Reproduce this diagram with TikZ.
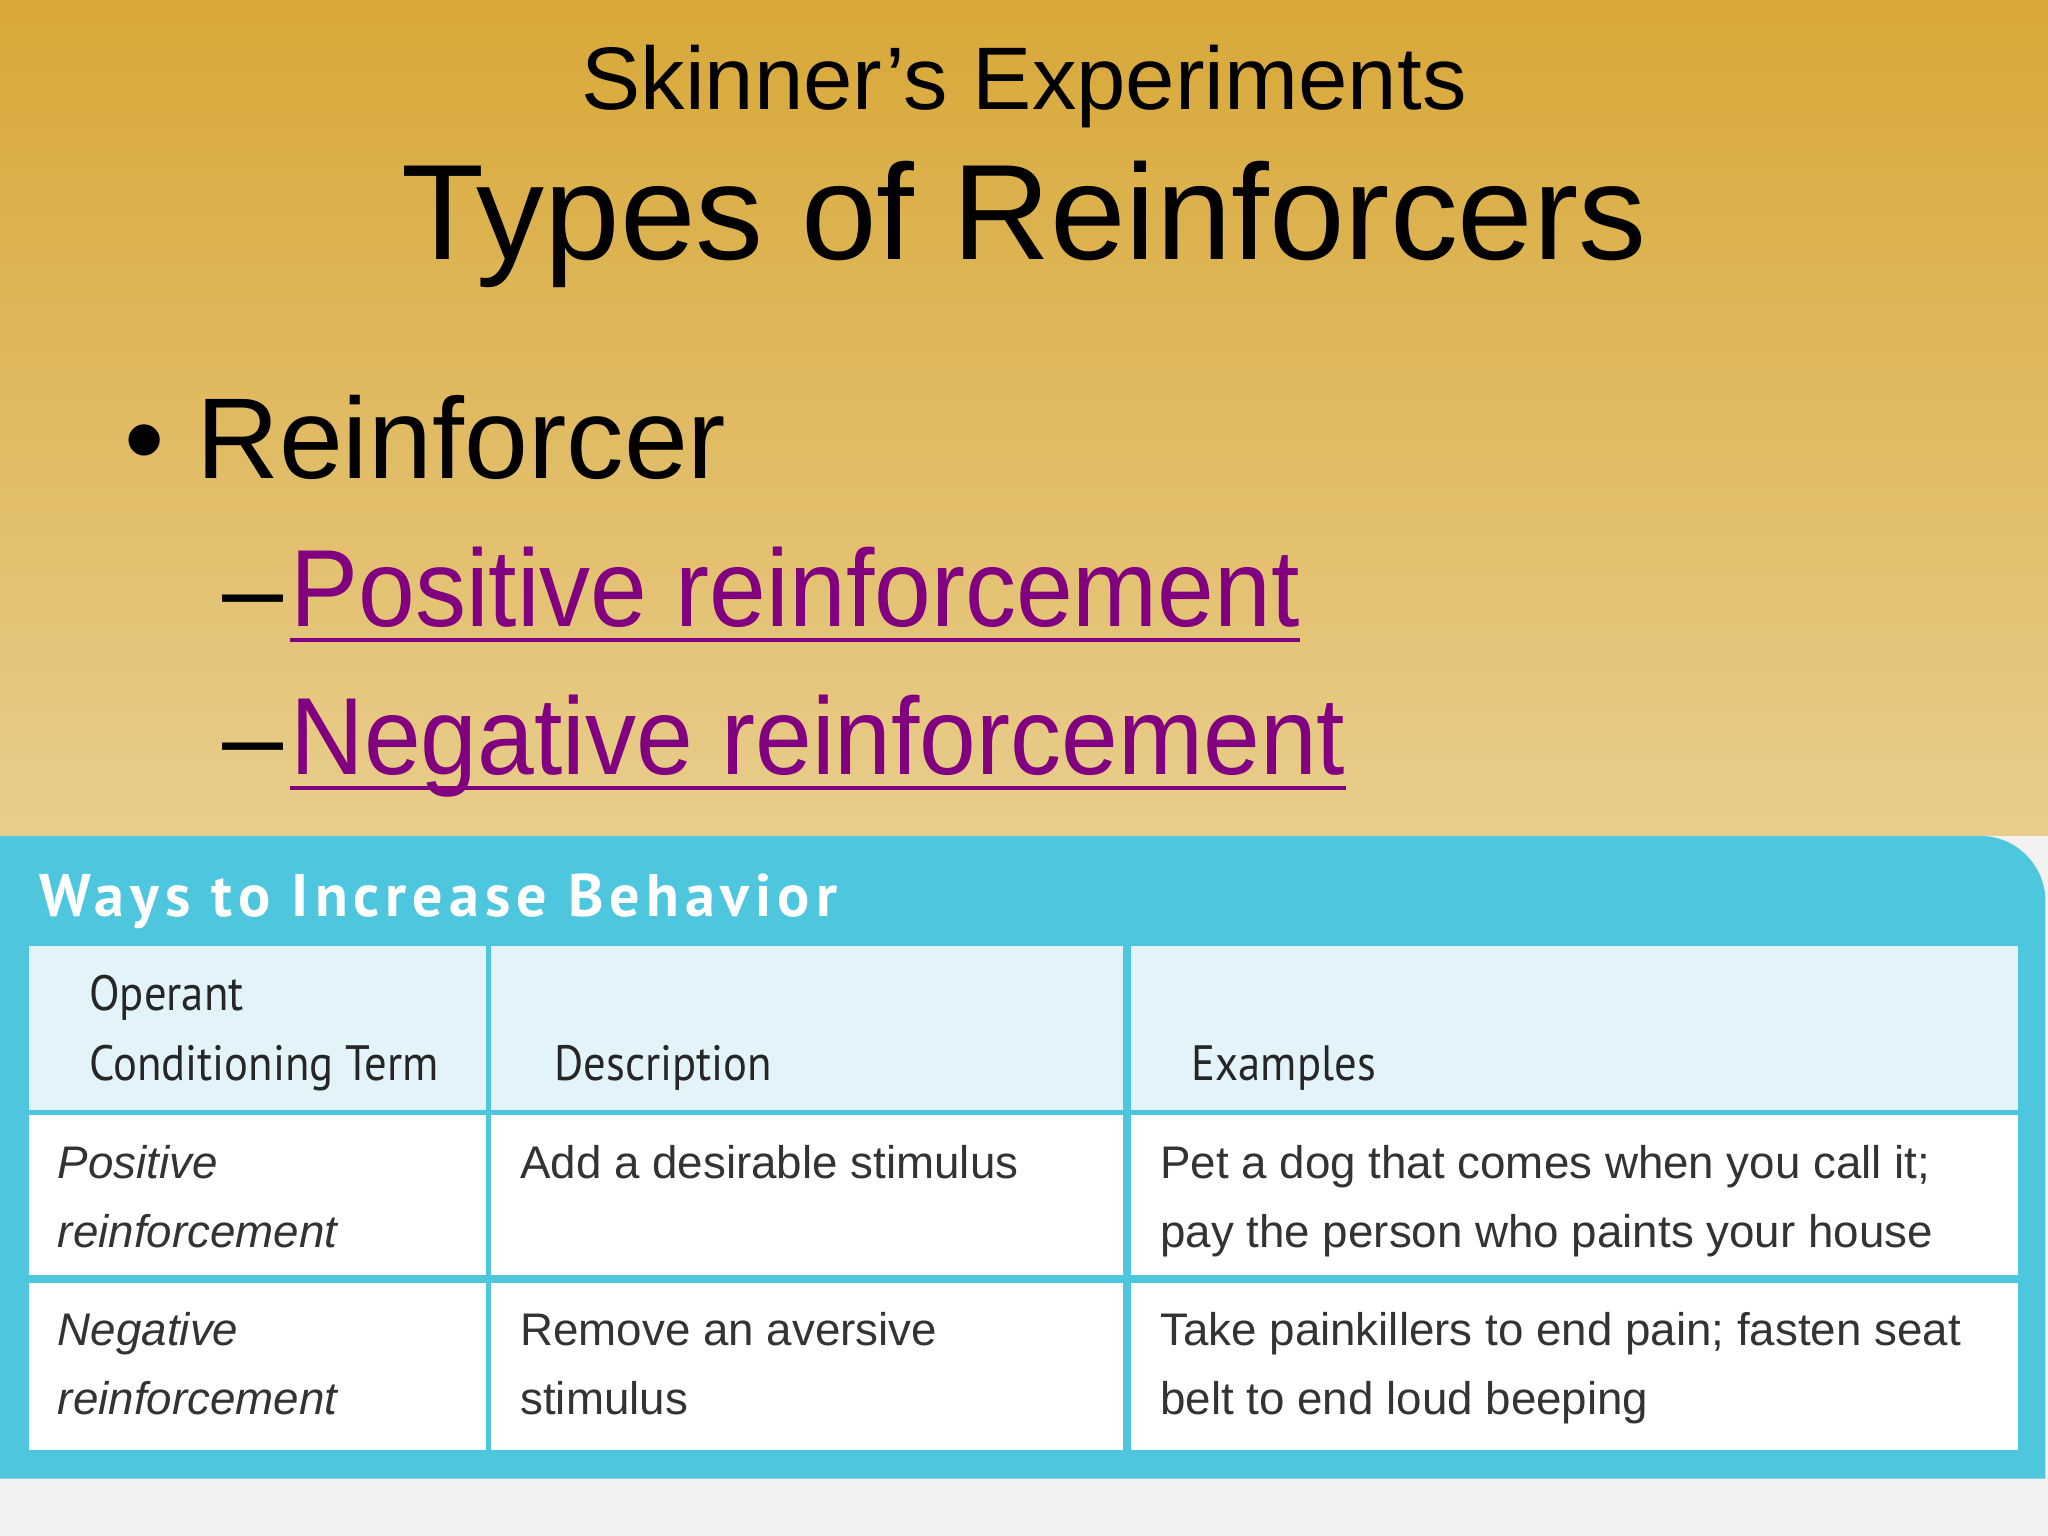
\documentclass[tikz,border=0pt]{standalone}
\usepackage{fontspec}
\setmainfont{Liberation Sans}
\newfontfamily\hdfont{PT Sans}
\usetikzlibrary{calc}
\definecolor{goldtop}{HTML}{D8A838}
\definecolor{goldbot}{HTML}{E8CD8C}
\definecolor{cyanp}{HTML}{4EC6DE}
\definecolor{hdcell}{HTML}{E2F4FA}
\definecolor{purp}{HTML}{800080}
\definecolor{txt}{HTML}{333333}
\tikzset{
  hdcellst/.style={fill=hdcell,draw=none},
  bdcellst/.style={fill=white,draw=none},
  celltxt/.style={anchor=base west,inner sep=0pt,font=\fontsize{17.5}{26}\selectfont,text=txt},
  hdtxt/.style={anchor=base west,inner sep=0pt,font=\hdfont\fontsize{19}{26}\selectfont,text=black!85},
  linkst/.style={anchor=base west,inner sep=0pt,font=\fontsize{42}{50}\selectfont,text=purp}
}
\begin{document}
\begin{tikzpicture}[x=0.5pt,y=-0.5pt]
\useasboundingbox (0,0) rectangle (1568,1176);
\shade[top color=goldtop,bottom color=goldbot] (0,0) rectangle (1568,640);
\fill[gray!10] (0,640) rectangle (1568,1176);
\fill[cyanp] (0,640) -- (1516,640) arc[start angle=-90,end angle=0,radius=50] -- (1566,1132) -- (0,1132) -- cycle;
% title
\node (t1) at (784,66) {\fontsize{34}{40}\selectfont Skinner’s Experiments};
\node (t2) at (784,172) {\fontsize{52}{60}\selectfont Types of Reinforcers};
\node[anchor=base west,inner sep=0pt] (b) at (95,366) {\fontsize{44}{50}\selectfont •\hspace{12pt}Reinforcer};
\node[anchor=base west,inner sep=0pt] (d1) at (170,480) {\fontsize{42}{50}\selectfont –};
\node[linkst] (p) at (222,480) {\scalebox{0.93}[1]{Positive reinforcement}};
\draw[purp,line width=1.5pt] ($(p.base west)+(0,10)$) -- ($(p.base east)+(0,10)$);
\node[anchor=base west,inner sep=0pt] (d2) at (170,593) {\fontsize{42}{50}\selectfont –};
\node[linkst] (n) at (222,593) {\scalebox{0.93}[1]{Negative reinforcement}};
\draw[purp,line width=1.5pt] ($(n.base west)+(0,10)$) -- ($(n.base east)+(0,10)$);
% table
\node[anchor=base west,inner sep=0pt,text=white] (w) at (30,702) {\hdfont\bfseries\fontsize{23}{26}\selectfont\addfontfeatures{LetterSpace=10}Ways to Increase Behavior};
\fill[hdcellst] (22,724) rectangle (372,850);
\fill[hdcellst] (376,724) rectangle (860,850);
\fill[hdcellst] (866,724) rectangle (1545,850);
\foreach \ya/\yb in {854/976,982/1110}{
  \fill[bdcellst] (22,\ya) rectangle (372,\yb);
  \fill[bdcellst] (376,\ya) rectangle (860,\yb);
  \fill[bdcellst] (866,\ya) rectangle (1545,\yb);
}
\node[hdtxt] (h1a) at (68,774) {\scalebox{0.9}[1]{Operant}};
\node[hdtxt] (h1b) at (68,827) {\scalebox{0.9}[1]{Conditioning Term}};
\node[hdtxt] (h2) at (424,827) {\scalebox{0.9}[1]{Description}};
\node[hdtxt] (h3) at (912,827) {\scalebox{0.9}[1]{Examples}};
\node[celltxt] (c11) at (44,902) {\itshape Positive};
\node[celltxt] (c12) at (44,955) {\itshape reinforcement};
\node[celltxt] (c21) at (398,902) {Add a desirable stimulus};
\node[celltxt] (c31) at (888,902) {Pet a dog that comes when you call it;};
\node[celltxt] (c32) at (888,955) {pay the person who paints your house};
\node[celltxt] (d11) at (44,1030) {\itshape Negative};
\node[celltxt] (d12) at (44,1083) {\itshape reinforcement};
\node[celltxt] (d21) at (398,1030) {Remove an aversive};
\node[celltxt] (d22) at (398,1083) {stimulus};
\node[celltxt] (d31) at (888,1030) {Take painkillers to end pain; fasten seat};
\node[celltxt] (d32) at (888,1083) {belt to end loud beeping};
\end{tikzpicture}
\end{document}
